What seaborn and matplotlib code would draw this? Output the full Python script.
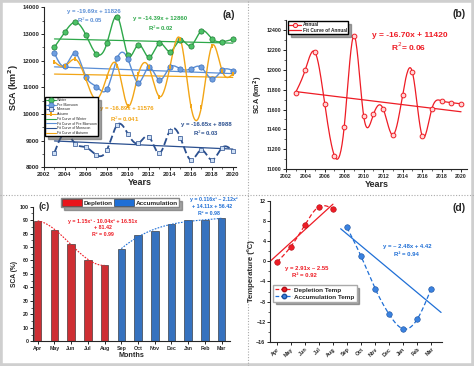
import numpy as np
import pandas as pd
import matplotlib
matplotlib.use("Agg")
import matplotlib.pyplot as plt
import seaborn as sns
from matplotlib.lines import Line2D
from matplotlib.patches import Patch, Rectangle
from matplotlib.ticker import MultipleLocator

# ---- data ----
years = list(range(2003, 2021))
winter = [12510, 13075, 13440, 12960, 12250, 12650, 13650, 12210, 12600,
          12125, 12650, 12340, 12775, 12560, 13110, 12825, 12710, 12800]
pre_monsoon = [12275, 11800, 12275, 11400, 11025, 10925, 12110, 12060, 11175,
               11750, 11275, 11750, 11690, 11690, 11750, 11310, 11640, 11625]
monsoon = [8550, 9275, 8875, 8750, 8460, 8650, 9600, 9250, 8900,
           9150, 8525, 9375, 9110, 8275, 8650, 8275, 8740, 8610]
autumn = [11950, 11800, 12050, 11300, 10550, 11400, 11800, 10300, 11500,
          11750, 10650, 11750, 12800, 10300, 10250, 12550, 11600, 11500]
annual = [11770, 12000, 12177, 11657, 11133, 11427, 12343, 11533, 11550,
          11607, 11343, 11747, 11977, 11337, 11607, 11687, 11670, 11657]

months = ['Apr', 'May', 'Jun', 'Jul', 'Aug', 'Sep', 'Oct', 'Nov', 'Dec', 'Jan', 'Feb', 'Mar']
season = ['Depletion'] * 5 + ['Accumulation'] * 7
sca_pct = [89.5, 82.7, 72.4, 60.4, 56.5, 68.3, 79.1, 81.6, 87.0, 89.8, 89.8, 91.4]
temp = [-0.2, 2.9, 7.2, 10.8, 10.4, 6.7, 1.0, -5.4, -10.5, -13.4, -11.5, -5.4]
dep_trend = [2.53, 1.19]    # slope per month, value at Apr (as drawn)
acc_trend = [-2.32, 5.4]    # slope per month, value at Sep (as drawn)

GREEN = '#2ea84a'
LBLUE = '#5b8fd6'
DBLUE = '#2a4f8f'
ORANGE = '#f2a516'
RED = '#ee1c25'
BBLUE = '#1f6fd6'


def smooth(x, y, n=300):
    """natural cubic spline through the points (Origin style 'spline' connect)"""
    x = np.asarray(x, float)
    y = np.asarray(y, float)
    k = len(x)
    h = np.diff(x)
    A = np.zeros((k, k))
    r = np.zeros(k)
    A[0, 0] = A[-1, -1] = 1
    for i in range(1, k - 1):
        A[i, i - 1] = h[i - 1]
        A[i, i] = 2 * (h[i - 1] + h[i])
        A[i, i + 1] = h[i]
        r[i] = 6 * ((y[i + 1] - y[i]) / h[i] - (y[i] - y[i - 1]) / h[i - 1])
    m = np.linalg.solve(A, r)
    xs = np.linspace(x[0], x[-1], n)
    j = np.clip(np.searchsorted(x, xs) - 1, 0, k - 2)
    t0 = x[j + 1] - xs
    t1 = xs - x[j]
    hj = h[j]
    ys = (m[j] * t0 ** 3 + m[j + 1] * t1 ** 3) / (6 * hj) \
        + (y[j] / hj - m[j] * hj / 6) * t0 + (y[j + 1] / hj - m[j + 1] * hj / 6) * t1
    return xs, ys


def style_axes(ax, fs):
    sns.despine(ax=ax)
    for s in ['left', 'bottom']:
        ax.spines[s].set_linewidth(0.8)
    ax.tick_params(which='major', length=2.2, width=0.7, labelsize=fs, pad=1.2)
    ax.tick_params(which='minor', length=1.2, width=0.5)
    for lab in ax.get_xticklabels() + ax.get_yticklabels():
        lab.set_fontweight('bold')


sns.set_style('ticks')
plt.rcParams['font.family'] = ['Liberation Sans', 'DejaVu Sans']
plt.rcParams['axes.linewidth'] = 0.8

fig = plt.figure(figsize=(4.74, 3.66), dpi=100)

# ---------------- (a) seasonal SCA ----------------
ax1 = fig.add_axes([0.0928, 0.543, 0.405, 0.437])
yr = np.array(years)
series = [
    ('Winter', winter, GREEN, [], dict(marker='o', ms=3.8, mfc='#4cc266', mec='#1d7a34', mew=0.5)),
    ('Pre Monsoon', pre_monsoon, LBLUE, [], dict(marker='o', ms=3.8, mfc='#6e9ee0', mec='#3d6fb8', mew=0.5)),
    ('Monsoon', monsoon, DBLUE, [4, 1.8], dict(marker='s', ms=2.4, mfc='#cfe0f5', mec=DBLUE, mew=0.5)),
    ('Autumn', autumn, ORANGE, [], dict(marker='|', ms=3.2, mec=ORANGE, mew=1.4)),
]
handles = []
for name, vals, col, dash, mk in series:
    xs, ys = smooth(years, vals)
    if dash:
        ax1.plot(xs, ys, color=col, lw=1.3, dashes=dash, zorder=3)
    else:
        ax1.plot(xs, ys, color=col, lw=1.0, zorder=3)
    ax1.plot(years, vals, ls='none', zorder=4, **mk)
    h = Line2D([], [], color=col, lw=0.8, **mk)
    if dash:
        h.set_dashes([3, 1.5])
    handles.append(h)
for name, vals, col, dash, mk in series:
    coef = np.polyfit(yr, vals, 1)
    sns.lineplot(x=yr, y=np.polyval(coef, yr), ax=ax1, color=col, lw=0.9, legend=False, zorder=2)
    handles.append(Line2D([], [], color=col, lw=0.8))
labels = [s[0] for s in series] + ['Fit Curve of ' + s[0] for s in series]
ax1.legend(handles, labels, loc='upper left', bbox_to_anchor=(-0.005, 0.45), fontsize=2.5,
           frameon=True, fancybox=False, edgecolor='black', framealpha=1, shadow=True,
           borderpad=0.3, labelspacing=0.2, handlelength=2.8, handletextpad=0.4)
ax1.set_xlim(2002, 2020.3)
ax1.set_ylim(8000, 14000)
ax1.xaxis.set_major_locator(MultipleLocator(2))
ax1.xaxis.set_minor_locator(MultipleLocator(1))
ax1.yaxis.set_major_locator(MultipleLocator(1000))
ax1.yaxis.set_minor_locator(MultipleLocator(500))
ax1.set_xlabel('Years', fontsize=6.5, fontweight='bold', labelpad=1)
ax1.set_ylabel('SCA (km$^{\\mathbf{2}}$)', fontsize=6.5, fontweight='bold', labelpad=1)
style_axes(ax1, 4.3)
ax1.text(2006.8, 13860, 'y = -19.69x + 11826', color=LBLUE, fontsize=4.3, fontweight='bold', ha='center', va='center')
ax1.text(2006.4, 13520, 'R$^2$= 0.05', color=LBLUE, fontsize=4.3, fontweight='bold', ha='center', va='center')
ax1.text(2013.1, 13570, 'y = -14.39x + 12860', color=GREEN, fontsize=4.3, fontweight='bold', ha='center', va='center')
ax1.text(2013.1, 13210, 'R$^2$= 0.02', color=GREEN, fontsize=4.3, fontweight='bold', ha='center', va='center')
ax1.text(2009.9, 10190, 'y = -16.89x + 11576', color=ORANGE, fontsize=4.3, fontweight='bold', ha='center', va='center')
ax1.text(2009.7, 9810, 'R$^2$= 0.041', color=ORANGE, fontsize=4.3, fontweight='bold', ha='center', va='center')
ax1.text(2017.5, 9610, 'y = -16.65x + 8988', color=DBLUE, fontsize=4.3, fontweight='bold', ha='center', va='center')
ax1.text(2017.4, 9270, 'R$^2$= 0.03', color=DBLUE, fontsize=4.3, fontweight='bold', ha='center', va='center')
ax1.text(0.995, 0.955, '(a)', transform=ax1.transAxes, fontsize=7.5, fontweight='bold', ha='right', va='center')

# ---------------- (b) annual SCA ----------------
ax2 = fig.add_axes([0.603, 0.538, 0.382, 0.407])
xs, ys = smooth(years, annual)
ax2.plot(xs, ys, color=RED, lw=0.9, zorder=3)
ax2.plot(years, annual, ls='none', marker='o', ms=3.4, mfc='#ffd6d6', mec=RED, mew=0.7, zorder=4)
coef = np.polyfit(yr, annual, 1)
sns.lineplot(x=yr, y=np.polyval(coef, yr), ax=ax2, color=RED, lw=0.9, legend=False, zorder=2)
hb = [Line2D([], [], color=RED, lw=0.9, marker='o', ms=3, mfc='#ffd6d6', mec=RED, mew=0.7),
      Line2D([], [], color=RED, lw=0.9)]
ax2.legend(hb, ['Annual', 'Fit Curve of Annual'], loc='upper left', bbox_to_anchor=(0.0, 1.01),
           frameon=True, fancybox=False, edgecolor='black', framealpha=1, shadow=True,
           borderpad=0.25, labelspacing=0.15, handlelength=2.4, handletextpad=0.4,
           prop={'weight': 'bold', 'size': 3.4})
ax2.set_xlim(2002, 2020.6)
ax2.set_ylim(11000, 12500)
ax2.xaxis.set_major_locator(MultipleLocator(2))
ax2.xaxis.set_minor_locator(MultipleLocator(1))
ax2.set_yticks(np.arange(11000, 12401, 200))
ax2.yaxis.set_minor_locator(MultipleLocator(100))
ax2.set_xlabel('Years', fontsize=6.5, fontweight='bold', labelpad=1)
ax2.set_ylabel('SCA (km$^{\\mathbf{2}}$)', fontsize=5.2, fontweight='bold', labelpad=1)
style_axes(ax2, 3.7)
ax2.text(2014.7, 12350, 'y = -16.70x + 11420', color=RED, fontsize=6, fontweight='bold', ha='center', va='center')
ax2.text(2014.6, 12230, 'R$^2$= 0.06', color=RED, fontsize=6, fontweight='bold', ha='center', va='center')
fig.text(0.982, 0.962, '(b)', fontsize=7.5, fontweight='bold', ha='right', va='center')

# ---------------- (c) monthly SCA % ----------------
ax3 = fig.add_axes([0.0703, 0.0675, 0.415, 0.368])
df = pd.DataFrame({'month': months, 'sca': sca_pct, 'season': season})
sns.barplot(data=df, x='month', y='sca', hue='season', order=months, dodge=False, width=0.45,
            palette={'Depletion': '#e8141b', 'Accumulation': BBLUE}, edgecolor='#222222',
            linewidth=0.4, ax=ax3, legend=False, zorder=2)
dep_x = np.arange(1, 6)
acc_x = np.arange(1, 8)
c_dep = np.polyfit(dep_x, sca_pct[:5], 3)
c_acc = np.polyfit(acc_x, sca_pct[5:], 3)
fx = np.linspace(1, 5, 100)
ax3.plot(fx - 1, np.polyval(c_dep, fx), ls=(0, (1.5, 1.2)), color=RED, lw=0.8, zorder=3)
fx = np.linspace(1, 7, 100)
ax3.plot(fx + 4, np.polyval(c_acc, fx), ls=(0, (1.5, 1.2)), color=BBLUE, lw=0.8, zorder=3)
ax3.set_xlim(-0.26, 11.5)
ax3.set_ylim(0, 100)
ax3.yaxis.set_major_locator(MultipleLocator(10))
ax3.yaxis.set_minor_locator(MultipleLocator(5))
ax3.set_xlabel('Months', fontsize=5.2, fontweight='bold', labelpad=1)
ax3.set_ylabel('SCA (%)', fontsize=4.8, fontweight='bold', labelpad=1.5)
style_axes(ax3, 3.8)
ax3.legend([Patch(facecolor='#e8141b', edgecolor='#222222', lw=0.4),
            Patch(facecolor=BBLUE, edgecolor='#222222', lw=0.4)],
           ['Depletion', 'Accumulation'], loc='center', bbox_to_anchor=(0.44, 1.03), ncol=2,
           frameon=True, fancybox=False, edgecolor='#888888', framealpha=1, shadow=True,
           borderpad=0.15, columnspacing=0.2, handlelength=3.2, handleheight=1.4, handletextpad=0.2,
           prop={'weight': 'bold', 'size': 4.6})
ax3.text(3.9, 89.2, 'y = 1.15x\u00b3 - 10.04x\u00b2 + 16.51x', color=RED, fontsize=3.8, fontweight='bold', ha='center', va='center')
ax3.text(3.93, 84.2, '+ 81.42', color=RED, fontsize=3.8, fontweight='bold', ha='center', va='center')
ax3.text(3.93, 79.2, 'R\u00b2 = 0.99', color=RED, fontsize=3.8, fontweight='bold', ha='center', va='center')
ax3.text(10.55, 105.5, 'y = 0.116x\u00b3 \u2013 2.12x\u00b2', color=BBLUE, fontsize=3.8, fontweight='bold', ha='center', va='center', clip_on=False)
ax3.text(10.4, 100.3, '+ 14.11x + 56.42', color=BBLUE, fontsize=3.8, fontweight='bold', ha='center', va='center', clip_on=False)
ax3.text(10.25, 95.2, 'R\u00b2 = 0.98', color=BBLUE, fontsize=3.8, fontweight='bold', ha='center', va='center')
ax3.text(0.025, 1.0, '(c)', transform=ax3.transAxes, fontsize=6.5, fontweight='bold', ha='left', va='center')

# ---------------- (d) monthly temperature ----------------
ax4 = fig.add_axes([0.570, 0.0656, 0.362, 0.386])
pos = np.arange(len(months))
dep_pos, acc_pos = pos[:5], pos[5:]
xs, ys = smooth(dep_pos, temp[:5])
ax4.plot(xs, ys, color=RED, ls=(0, (3.5, 2)), lw=0.9, zorder=3)
xs, ys = smooth(acc_pos, temp[5:])
ax4.plot(xs, ys, color=BBLUE, ls=(0, (3.5, 2)), lw=0.9, zorder=3)
sns.scatterplot(x=dep_pos, y=temp[:5], ax=ax4, color=RED, s=16, edgecolor='#b01018', linewidth=0.4, zorder=4)
sns.scatterplot(x=acc_pos, y=temp[5:], ax=ax4, color='#3a82e0', s=16, edgecolor='#1a4f9c', linewidth=0.4, zorder=4)
tx = np.array([dep_pos[0] - 0.47, dep_pos[-1]])
ax4.plot(tx, dep_trend[1] + dep_trend[0] * (tx - dep_pos[0]), color=RED, lw=0.9, zorder=2)
tx = np.array([acc_pos[0] - 0.45, acc_pos[-1] + 0.7])
ax4.plot(tx, acc_trend[1] + acc_trend[0] * (tx - acc_pos[0]), color=BBLUE, lw=0.9, zorder=2)
ax4.set_xlim(-0.47, 11.75)
ax4.set_ylim(-16, 12)
ax4.set_yticks(np.arange(-16, 13, 4))
ax4.yaxis.set_minor_locator(MultipleLocator(2))
ax4.set_xticks(pos)
ax4.set_xticklabels(months, rotation=45, ha='right', rotation_mode='anchor')
ax4.set_ylabel('Temperature (\u00baC)', fontsize=5.6, fontweight='bold', labelpad=1)
style_axes(ax4, 3.9)
ax4.legend([Line2D([], [], color=RED, ls=(0, (3, 1.5)), lw=0.9, marker='o', ms=3.2, mfc=RED, mec='#b01018'),
            Line2D([], [], color=BBLUE, ls=(0, (3, 1.5)), lw=0.9, marker='o', ms=3.2, mfc='#3a82e0', mec='#1a4f9c')],
           ['Depletion Temp', 'Accumulation Temp'], loc='upper left', bbox_to_anchor=(0.0, 0.425),
           frameon=True, fancybox=False, edgecolor='#aaaaaa', framealpha=1, shadow=True,
           borderpad=0.3, labelspacing=0.25, handlelength=2.6, handletextpad=0.4,
           prop={'weight': 'bold', 'size': 4.6})
ax4.text(2.1, -1.4, 'y = 2.91x \u2013 2.55', color=RED, fontsize=4.3, fontweight='bold', ha='center', va='center')
ax4.text(2.0, -2.8, 'R\u00b2 = 0.92', color=RED, fontsize=4.3, fontweight='bold', ha='center', va='center')
ax4.text(9.3, 2.9, 'y = \u2013 2.48x + 4.42', color=BBLUE, fontsize=4.3, fontweight='bold', ha='center', va='center')
ax4.text(9.2, 1.4, 'R\u00b2 = 0.94', color=BBLUE, fontsize=4.3, fontweight='bold', ha='center', va='center')
fig.text(0.982, 0.432, '(d)', fontsize=7.5, fontweight='bold', ha='right', va='center')

# panel separators and outer frame
fig.add_artist(Line2D([0, 1], [1 - 195 / 366] * 2, transform=fig.transFigure,
                      color='#aaaaaa', ls=(0, (1, 1.5)), lw=0.8))
fig.add_artist(Line2D([248 / 474] * 2, [0, 1], transform=fig.transFigure,
                      color='#aaaaaa', ls=(0, (1, 1.5)), lw=0.8))
fig.add_artist(Rectangle((0, 0), 1, 1, transform=fig.transFigure, fill=False,
                         edgecolor='#cfcfcf', lw=4))

fig.savefig('out.png', dpi=100)
